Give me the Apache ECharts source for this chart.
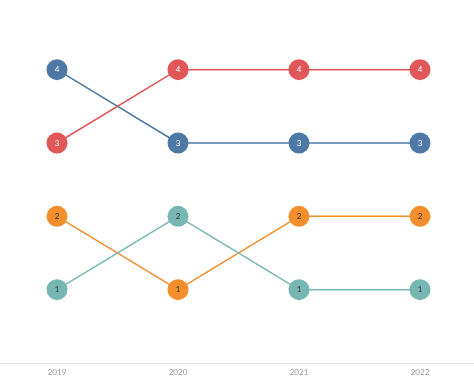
<!DOCTYPE html>
<html>
<head>
<meta charset="utf-8">
<script src="https://cdn.jsdelivr.net/npm/echarts@6/dist/echarts.min.js"></script>
<style>
    html, body { margin: 0; padding: 0; background: #fff; }
    #chart { width: 474px; height: 376px; }
</style>
</head>
<body>
<div id="chart"></div>
<script>
// 年份与各系列名次
const years = ["2019", "2020", "2021", "2022"];
const blueRanks = [4, 3, 3, 3];
const redRanks = [3, 4, 4, 4];
const orangeRanks = [2, 1, 2, 2];
const tealRanks = [1, 2, 1, 1];

const seriesList = [
    { name: "A", data: blueRanks, color: "#4e79a7", text: "#ffffff" },
    { name: "B", data: redRanks, color: "#e15759", text: "#ffffff" },
    { name: "C", data: orangeRanks, color: "#f28e2b", text: "#333333" },
    { name: "D", data: tealRanks, color: "#76b7b2", text: "#333333" }
];

const chart = echarts.init(document.getElementById("chart"));
chart.setOption({
    animation: false,
    grid: [
        { top: 0, left: 57, right: 54, bottom: 13 },
        // 底部全宽的轴线
        { top: 0, left: 0, right: 0, bottom: 13 }
    ],
    xAxis: [
        {
            type: "category",
            gridIndex: 0,
            boundaryGap: false,
            data: years,
            axisTick: { show: false },
            axisLine: { show: false },
            axisLabel: {
                color: "#999999",
                fontSize: 8,
                margin: 5,
                fontFamily: "Lato"
            }
        },
        {
            type: "value",
            gridIndex: 1,
            min: 0,
            max: 1,
            axisTick: { show: false },
            axisLabel: { show: false },
            splitLine: { show: false },
            axisLine: {
                show: true,
                lineStyle: { color: "#e3e3e3" }
            }
        }
    ],
    yAxis: [
        { type: "value", gridIndex: 0, min: 0, max: 4.95, show: false },
        { type: "value", gridIndex: 1, min: 0, max: 1, show: false }
    ],
    series: seriesList.map((s) => ({
        name: s.name,
        type: "line",
        data: s.data,
        symbol: "circle",
        symbolSize: 21,
        lineStyle: { color: s.color, width: 1.5 },
        itemStyle: { color: s.color },
        label: {
            show: true,
            position: "inside",
            color: s.text,
            fontSize: 8,
            fontFamily: "Lato"
        }
    }))
});
</script>
</body>
</html>
